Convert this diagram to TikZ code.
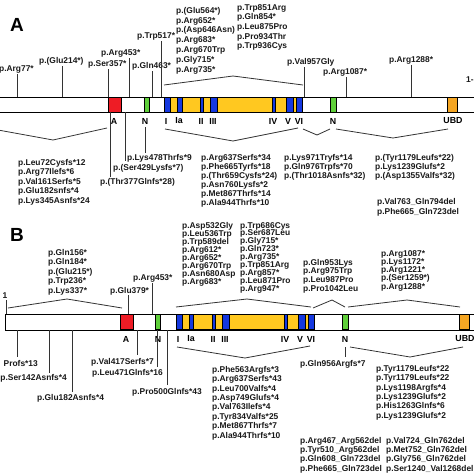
\documentclass[tikz,border=0pt]{standalone}
\usepackage{fontspec}
\setmainfont{Liberation Sans}
\definecolor{dred}{HTML}{EE1C25}
\definecolor{dgreen}{HTML}{5FD03A}
\definecolor{dblue}{HTML}{1538E0}
\definecolor{dyellow}{HTML}{FFC820}
\definecolor{dorange}{HTML}{F5A623}
\tikzset{
  lbl/.style={inner sep=0pt, text=black!90, font=\bfseries\fontsize{8.4}{9.6}\selectfont},
  dlbl/.style={inner sep=0pt, font=\bfseries\fontsize{8.8}{9.6}\selectfont},
  panel/.style={inner sep=0pt, font=\bfseries\fontsize{19}{20}\selectfont},
  conn/.style={draw=black!80, line width=0.8pt},
  bar/.style={draw=black, line width=0.9pt, fill=white},
  dom/.style={draw=black, line width=0.7pt},
}
\newcommand\vln[4]{\coordinate (#1a) at (#2,#3); \coordinate (#1b) at (#2,#4); \draw[conn] (#1a) -- (#1b);}
\newcommand\tnt[7]{\coordinate (#1a) at (#2,#3); \coordinate (#1b) at (#4,#5); \coordinate (#1c) at (#6,#7); \draw[conn] (#1a) -- (#1b) -- (#1c);}
\newcommand\lab[4]{\node[lbl,anchor=base west] (#1) at (#2,#3) {#4};}
\newcommand\grp[5]{\node[lbl,anchor=north west,align=left,font=\bfseries\fontsize{8.4}{#4}\selectfont] (#1) at (#2,#3) {#5};}
\newcommand\blk[5]{\filldraw[dom,fill=#2] (#3,#4) rectangle (#5,#4+15);}
\begin{document}
\begin{tikzpicture}[x=1pt,y=-1pt]
\useasboundingbox (0,0) rectangle (474,474);
\fill[white] (0,0) rectangle (474,474);

% ================= Panel A =================
\node[panel] (pA) at (17,25) {A};

% bar A
\draw[bar] (-2,97) rectangle (476,112);
\blk{a1}{dyellow}{164}{97}{302}
\blk{a2}{dblue}{164}{97}{170}
\blk{a3}{dblue}{177}{97}{182}
\blk{a4}{dblue}{200}{97}{203.5}
\blk{a5}{dblue}{210}{97}{217}
\blk{a6}{dblue}{272}{97}{275.5}
\blk{a7}{dblue}{286}{97}{293.5}
\blk{a8}{dblue}{296.5}{97}{302}
\blk{a9}{dred}{108}{97}{121}
\blk{a10}{dgreen}{144}{97}{149}
\blk{a11}{dgreen}{330}{97}{336}
\blk{a12}{dorange}{447}{97}{457}

% domain labels A
\node[dlbl] (aA) at (114,121) {A};
\node[dlbl] (aN1) at (145,121) {N};
\node[dlbl] (aI) at (166,121) {I};
\node[dlbl] (aIa) at (179,121) {Ia};
\node[dlbl] (aII) at (201,121) {II};
\node[dlbl] (aIII) at (213,121) {III};
\node[dlbl] (aIV) at (273,121) {IV};
\node[dlbl] (aV) at (288,121) {V};
\node[dlbl] (aVI) at (299,121) {VI};
\node[dlbl] (aN2) at (333,121) {N};
\node[dlbl] (aUBD) at (453,121) {UBD};

% top labels A
\lab{t1}{-1}{71}{p.Arg77*}
\vln{v1}{17}{74}{97}
\lab{t2}{39}{63}{p.(Glu214*)}
\vln{v2}{62}{66}{97}
\lab{t3}{88}{66}{p.Ser357*}
\vln{v3}{108}{69}{97}
\lab{t4}{101}{55}{p.Arg453*}
\vln{v4}{129}{58}{97}
\lab{t5}{132}{68}{p.Gln463*}
\vln{v5}{152}{71}{97}
\lab{t6}{137}{38}{p.Trp517*}
\vln{v6}{161}{41}{97}
\grp{g1}{176}{7}{9.8}{p.(Glu564*)\\p.Arg652*\\p.(Asp646Asn)\\p.Arg683*\\p.Arg670Trp\\p.Gly715*\\p.Arg735*}
\grp{g2}{237}{4}{9.7}{p.Trp851Arg\\p.Gln854*\\p.Leu875Pro\\p.Pro934Thr\\p.Trp936Cys}
\tnt{ta}{164}{85}{233}{76}{303}{85}
\lab{t7}{287}{64}{p.Val957Gly}
\vln{v7}{304}{67}{97}
\lab{t8}{323}{74}{p.Arg1087*}
\vln{v8}{346}{77}{97}
\lab{t9}{389}{62}{p.Arg1288*}
\vln{v9}{411}{65}{97}
\lab{t10}{466}{82}{1-}

% bottom A
\tnt{ba1}{-2}{130}{53}{140}{107}{128}
\vln{bv1}{110}{112}{177}
\vln{bv2}{125}{112}{161}
\vln{bv3}{145}{127}{153}
\grp{g3}{18}{159}{9.5}{p.Leu72Cysfs*12\\p.Arg77Ilefs*6\\p.Val161Serfs*5\\p.Glu182snfs*4\\p.Lys345Asnfs*24}
\lab{b1}{127}{160}{p.Lys478Thrfs*9}
\lab{b2}{113}{170}{p.(Ser429Lysfs*7)}
\lab{b3}{100}{184}{p.(Thr377Glnfs*28)}
\tnt{ba2}{165}{129}{233}{141}{298}{128}
\tnt{ba3}{303}{129}{317}{135}{330}{129}
\tnt{ba4}{336}{129}{393}{138}{448}{129}
\grp{g4}{201}{154}{9.1}{p.Arg637Serfs*34\\p.Phe665Tyrfs*18\\p.(Thr659Cysfs*24)\\p.Asn760Lysfs*2\\p.Met867Thrfs*14\\p.Ala944Thrfs*10}
\grp{g5}{284}{154}{9.1}{p.Lys971Tryfs*14\\p.Gln976Trpfs*70\\p.(Thr1018Asnfs*32)}
\grp{g6}{375}{154}{9.1}{p.(Tyr1179Leufs*22)\\p.Lys1239Glufs*2\\p.(Asp1355Valfs*32)}
\grp{g7}{377}{198}{10}{p.Val763\_Gln794del\\p.Phe665\_Gln723del}

% ================= Panel B =================
\node[panel] (pB) at (17,235) {B};
\node[lbl] (one) at (5,296) {1};
\vln{tick}{6}{300}{314}

\draw[bar] (5,314) rectangle (476,330);
\blk{b1}{dyellow}{176}{314.5}{314}
\blk{b2}{dblue}{176}{314.5}{182}
\blk{b3}{dblue}{189}{314.5}{193}
\blk{b4}{dblue}{212}{314.5}{215.5}
\blk{b5}{dblue}{222}{314.5}{229}
\blk{b6}{dblue}{284}{314.5}{287.5}
\blk{b7}{dblue}{298}{314.5}{305.5}
\blk{b8}{dblue}{308.5}{314.5}{314}
\blk{b9}{dred}{120}{314.5}{133}
\blk{b10}{dgreen}{155}{314.5}{160}
\blk{b11}{dgreen}{342}{314.5}{348}
\blk{b12}{dorange}{459}{314.5}{469}

\node[dlbl] (bA) at (126,339) {A};
\node[dlbl] (bN1) at (158,339) {N};
\node[dlbl] (bI) at (178,339) {I};
\node[dlbl] (bIa) at (191,339) {Ia};
\node[dlbl] (bII) at (213,339) {II};
\node[dlbl] (bIII) at (225,339) {III};
\node[dlbl] (bIV) at (285,339) {IV};
\node[dlbl] (bV) at (300,339) {V};
\node[dlbl] (bVI) at (311,339) {VI};
\node[dlbl] (bN2) at (345,339) {N};
\node[dlbl] (bUBD) at (465,339) {UBD};

% top B
\tnt{tb1}{8}{308}{67}{299}{122}{308}
\grp{g8}{48}{249}{9.5}{p.Gln156*\\p.Gln184*\\p.(Glu215*)\\p.Trp236*\\p.Lys337*}
\lab{u1}{110}{293}{p.Glu379*}
\vln{uv1}{128}{295}{314}
\lab{u2}{133}{280}{p.Arg453*}
\vln{uv2}{152}{283}{314}
\grp{g9}{182}{222}{8.1}{p.Asp532Gly\\p.Leu536Trp\\p.Trp589del\\p.Arg612*\\p.Arg652*\\p.Arg670Trp\\p.Asn680Asp\\p.Arg683*}
\grp{g10}{240}{222}{7.9}{p.Trp686Cys\\p.Ser687Leu\\p.Gly715*\\p.Gln723*\\p.Arg735*\\p.Trp851Arg\\p.Arg857*\\p.Leu871Pro\\p.Arg947*}
\grp{g11}{303}{259}{8.7}{p.Gln953Lys\\p.Arg975Trp\\p.Leu987Pro\\p.Pro1042Leu}
\grp{g12}{381}{250}{8.3}{p.Arg1087*\\p.Lys1172*\\p.Arg1221*\\p.(Ser1259*)\\p.Arg1288*}
\tnt{tb2}{176}{307}{247}{299}{311}{307}
\tnt{tb3}{313}{308}{332}{300}{345}{307}
\tnt{tb4}{348}{307}{407}{300}{460}{307}

% bottom B
\vln{w1}{17}{330}{357}
\node[lbl,anchor=base east] (c1) at (38,366) {Profs*13};
\vln{w2}{49}{330}{373}
\node[lbl,anchor=base east] (c2) at (67,380) {p.Ser142Asnfs*4};
\vln{w3}{72}{330}{392}
\lab{c3}{37}{400}{p.Glu182Asnfs*4}
\vln{w4}{137}{330}{355}
\lab{c4}{91}{364}{p.Val417Serfs*7}
\vln{w5}{157}{330}{367}
\lab{c5}{92}{375}{p.Leu471Glnfs*16}
\vln{w6}{167}{330}{385}
\lab{c6}{132}{394}{p.Pro500Glnfs*43}
\tnt{bb1}{177}{347}{245}{358}{310}{346}
\grp{g13}{212}{366}{9.4}{p.Phe563Argfs*3\\p.Arg637Serfs*43\\p.Leu700Valfs*4\\p.Asp749Glufs*4\\p.Val763Ilefs*4\\p.Tyr834Valfs*25\\p.Met867Thrfs*7\\p.Ala944Thrfs*10}
\vln{w7}{345}{347}{357}
\lab{c7}{300}{366}{p.Gln956Argfs*7}
\tnt{bb2}{350}{347}{410}{357}{463}{347}
\grp{g14}{376}{365}{9.4}{p.Tyr1179Leufs*22\\p.Tyr1179Leufs*22\\p.Lys1198Argfs*4\\p.Lys1239Glufs*2\\p.His1263Glnfs*6\\p.Lys1239Glufs*2}
\grp{g15}{300}{437}{9.3}{p.Arg467\_Arg562del\\p.Tyr510\_Arg562del\\p.Gln608\_Gln723del\\p.Phe665\_Gln723del}
\grp{g16}{386}{437}{9.3}{p.Val724\_Gln762del\\p.Met752\_Gln762del\\p.Gly756\_Gln762del\\p.Ser1240\_Val1268del}
\end{tikzpicture}
\end{document}
